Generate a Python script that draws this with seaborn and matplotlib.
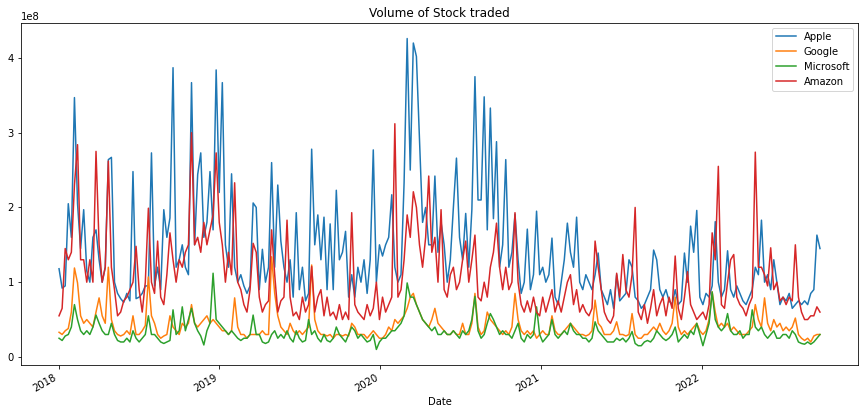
import numpy as np
import pandas as pd
import matplotlib
matplotlib.use("Agg")
import matplotlib.pyplot as plt
import matplotlib.dates as mdates
import seaborn as sns

# weekly samples (Tuesdays) from 2018-01-02 to 2022-09-27, volume in units of 1e8
dates = pd.date_range("2018-01-02", periods=248, freq="7D")

apple = [
    1.18, 0.92, 0.95, 2.05, 1.6, 3.47, 2.05, 1.45, 1.97, 1.15,
    1.0, 1.6, 1.7, 1.3, 1.0, 1.2, 2.64, 2.67, 1.0, 0.85,
    0.78, 0.73, 0.85, 0.75, 2.48, 0.78, 0.8, 0.85, 0.95, 0.95,
    2.73, 0.95, 1.2, 0.9, 1.97, 1.6, 1.86, 3.87, 1.2, 1.3,
    1.5, 1.2, 1.1, 3.67, 1.5, 2.44, 2.73, 1.6, 1.8, 2.48,
    1.7, 3.84, 2.2, 3.67, 1.5, 1.2, 2.45, 1.2, 1.0, 1.1,
    0.95, 0.85, 0.95, 2.06, 2.0, 0.9, 1.44, 1.0, 1.2, 2.6,
    1.2, 2.3, 1.55, 1.2, 1.0, 1.3, 0.8, 1.93, 0.9, 1.2,
    0.75, 0.85, 2.78, 1.5, 1.9, 1.3, 1.87, 0.9, 1.78, 0.9,
    2.23, 1.3, 1.4, 1.68, 0.8, 1.1, 0.8, 1.2, 1.0, 1.3,
    0.85, 1.3, 2.77, 1.0, 1.5, 1.35, 1.5, 1.6, 2.17, 1.2,
    1.0, 1.1, 2.33, 4.26, 2.5, 4.2, 4.02, 2.9, 1.8, 2.0,
    1.5, 1.5, 2.42, 1.4, 1.8, 1.5, 1.0, 1.3, 2.0, 2.66,
    1.6, 1.3, 1.92, 1.2, 1.97, 3.75, 2.1, 2.1, 3.48, 1.7,
    3.33, 1.85, 2.88, 1.2, 1.5, 2.64, 1.2, 1.4, 1.91, 1.3,
    0.85, 1.0, 1.71, 0.9, 1.1, 1.95, 1.1, 1.2, 1.0, 1.1,
    1.59, 0.8, 0.7, 1.0, 1.3, 1.79, 1.4, 1.2, 1.87, 1.0,
    0.9, 1.1, 1.0, 0.9, 1.1, 1.39, 0.9, 0.8, 0.7, 0.9,
    0.65, 1.1, 0.75, 0.8, 0.85, 1.3, 1.2, 0.8, 0.75, 0.65,
    0.7, 0.8, 0.9, 1.43, 1.3, 0.9, 0.8, 0.9, 0.75, 0.7,
    0.9, 0.7, 0.75, 1.39, 1.0, 1.75, 1.4, 1.96, 0.8, 0.7,
    0.85, 0.8, 0.95, 1.81, 1.0, 0.8, 0.9, 1.42, 0.9, 0.8,
    0.95, 0.85, 0.75, 0.7, 0.8, 0.9, 1.2, 1.1, 1.83, 1.0,
    1.1, 0.9, 1.3, 1.0, 0.7, 0.8, 0.75, 0.85, 0.65, 0.7,
    0.75, 0.7, 0.75, 0.7, 0.85, 0.9, 1.63, 1.45,
]

google = [
    0.33, 0.3, 0.35, 0.38, 0.6, 1.19, 0.99, 0.55, 0.45, 0.5,
    0.45, 0.4, 0.6, 0.79, 0.55, 0.45, 1.2, 0.5, 0.35, 0.3,
    0.28, 0.3, 0.35, 0.3, 0.55, 0.3, 0.3, 0.35, 0.42, 1.07,
    0.55, 0.45, 0.3, 0.25, 0.28, 0.3, 0.55, 0.4, 0.35, 0.3,
    0.45, 0.4, 0.45, 0.7, 0.45, 0.4, 0.45, 0.5, 0.55, 0.45,
    0.5, 0.45, 0.4, 0.35, 0.35, 0.3, 0.35, 0.79, 0.4, 0.3,
    0.3, 0.25, 0.3, 0.3, 0.3, 0.3, 0.35, 0.3, 0.3, 1.34,
    0.85, 0.55, 0.4, 0.35, 0.3, 0.45, 0.35, 0.3, 0.35, 0.3,
    0.35, 0.4, 1.23, 0.5, 0.35, 0.3, 0.3, 0.28, 0.3, 0.25,
    0.3, 0.3, 0.28, 0.3, 0.28, 0.45, 0.4, 0.3, 0.3, 0.3,
    0.25, 0.3, 0.35, 0.3, 0.25, 0.25, 0.3, 0.4, 0.35, 0.5,
    0.45, 0.5, 0.55, 0.65, 0.8, 0.85, 0.7, 0.6, 0.5, 0.45,
    0.4, 0.5, 0.65, 0.45, 0.4, 0.35, 0.3, 0.3, 0.35, 0.3,
    0.3, 0.45, 0.3, 0.3, 0.45, 0.85, 0.4, 0.3, 0.35, 0.6,
    0.5, 0.45, 0.4, 0.35, 0.3, 0.35, 0.3, 0.4, 0.85, 0.5,
    0.35, 0.3, 0.35, 0.3, 0.35, 0.25, 0.3, 0.35, 0.3, 0.3,
    0.55, 0.35, 0.3, 0.3, 0.35, 0.4, 0.45, 0.4, 0.35, 0.3,
    0.3, 0.28, 0.3, 0.35, 0.76, 0.45, 0.4, 0.3, 0.3, 0.3,
    0.35, 0.47, 0.3, 0.3, 0.28, 0.3, 0.58, 0.3, 0.25, 0.25,
    0.3, 0.3, 0.35, 0.4, 0.35, 0.45, 0.35, 0.3, 0.35, 0.45,
    0.8, 0.4, 0.3, 0.35, 0.3, 0.35, 0.4, 0.45, 0.35, 0.3,
    0.35, 0.5, 0.87, 0.6, 0.4, 0.45, 0.4, 0.45, 0.35, 0.4,
    0.35, 0.3, 0.3, 0.3, 0.35, 0.4, 0.7, 0.5, 0.4, 0.79,
    0.45, 0.35, 0.5, 0.4, 0.45, 0.35, 0.4, 0.35, 0.4, 0.52,
    0.3, 0.25, 0.22, 0.25, 0.2, 0.28, 0.3, 0.3,
]

microsoft = [
    0.25, 0.22, 0.28, 0.3, 0.4, 0.7, 0.5, 0.35, 0.3, 0.35,
    0.3, 0.4, 0.56, 0.45, 0.35, 0.3, 0.3, 0.45, 0.3, 0.22,
    0.2, 0.2, 0.25, 0.2, 0.35, 0.25, 0.2, 0.25, 0.3, 0.55,
    0.3, 0.3, 0.25, 0.2, 0.18, 0.2, 0.22, 0.63, 0.3, 0.35,
    0.67, 0.35, 0.5, 0.65, 0.45, 0.35, 0.28, 0.16, 0.35, 0.45,
    1.12, 0.5, 0.45, 0.4, 0.35, 0.3, 0.35, 0.3, 0.25, 0.22,
    0.25, 0.25, 0.3, 0.56, 0.3, 0.3, 0.2, 0.18, 0.2, 0.3,
    0.35, 0.25, 0.3, 0.25, 0.35, 0.25, 0.2, 0.35, 0.25, 0.2,
    0.22, 0.5, 0.3, 0.35, 0.25, 0.2, 0.3, 0.22, 0.2, 0.25,
    0.4, 0.3, 0.25, 0.2, 0.3, 0.4, 0.35, 0.25, 0.3, 0.25,
    0.2, 0.22, 0.3, 0.10, 0.2, 0.25, 0.25, 0.3, 0.35, 0.35,
    0.4, 0.45, 0.55, 0.99, 0.8, 0.8, 0.7, 0.6, 0.5, 0.45,
    0.4, 0.35, 0.4, 0.3, 0.3, 0.35, 0.3, 0.3, 0.35, 0.3,
    0.25, 0.35, 0.3, 0.35, 0.5, 0.81, 0.35, 0.25, 0.3, 0.45,
    0.58, 0.5, 0.4, 0.3, 0.35, 0.3, 0.3, 0.25, 0.35, 0.45,
    0.25, 0.2, 0.3, 0.25, 0.3, 0.67, 0.3, 0.2, 0.25, 0.3,
    0.5, 0.3, 0.25, 0.3, 0.35, 0.3, 0.45, 0.35, 0.3, 0.3,
    0.25, 0.25, 0.2, 0.25, 0.47, 0.35, 0.3, 0.25, 0.2, 0.2,
    0.2, 0.25, 0.22, 0.25, 0.2, 0.25, 0.34, 0.18, 0.15, 0.15,
    0.2, 0.22, 0.2, 0.25, 0.35, 0.3, 0.25, 0.22, 0.25, 0.3,
    0.4, 0.2, 0.25, 0.3, 0.25, 0.35, 0.3, 0.45, 0.3, 0.15,
    0.3, 0.45, 0.87, 0.5, 0.4, 0.35, 0.4, 0.58, 0.35, 0.3,
    0.3, 0.35, 0.25, 0.3, 0.3, 0.63, 0.4, 0.35, 0.4, 0.3,
    0.25, 0.3, 0.35, 0.25, 0.25, 0.3, 0.3, 0.25, 0.35, 0.3,
    0.2, 0.18, 0.17, 0.2, 0.17, 0.2, 0.25, 0.3,
]

amazon = [
    0.55, 0.65, 1.45, 1.3, 1.4, 2.3, 2.84, 1.3, 1.3, 1.0,
    1.3, 1.0, 2.75, 1.5, 1.0, 1.2, 2.62, 1.2, 0.9, 0.55,
    0.6, 0.75, 0.8, 0.9, 1.0, 1.48, 0.9, 0.6, 1.0, 1.99,
    1.0, 0.85, 1.55, 0.8, 0.7, 1.1, 1.66, 1.3, 1.0, 1.3,
    1.2, 1.4, 1.5, 3.0, 1.5, 1.6, 1.4, 1.8, 1.5, 1.7,
    1.9, 2.73, 1.8, 1.5, 1.0, 1.4, 1.1, 2.33, 1.0, 0.9,
    0.7, 0.6, 0.9, 1.52, 1.4, 0.8, 0.6, 0.7, 0.75, 1.7,
    1.1, 0.6, 0.75, 0.8, 1.83, 0.8, 0.55, 0.6, 0.5, 0.8,
    0.6, 0.7, 1.21, 0.6, 0.8, 0.9, 0.55, 0.8, 0.55, 0.6,
    0.5, 0.7, 0.5, 0.6, 0.5, 1.93, 0.7, 0.6, 0.55, 0.5,
    0.7, 0.55, 0.65, 1.0, 0.5, 0.8, 0.6, 0.7, 0.8, 3.12,
    0.8, 0.9, 1.3, 1.9, 1.6, 2.21, 2.0, 1.5, 1.2, 1.6,
    2.42, 1.4, 1.6, 1.0, 1.97, 0.9, 0.8, 1.1, 1.2, 0.9,
    1.0, 1.3, 1.55, 1.0, 1.3, 1.63, 0.8, 0.75, 1.0, 0.8,
    1.2, 1.4, 1.79, 1.2, 0.9, 1.2, 0.9, 1.0, 1.93, 1.0,
    0.7, 0.6, 0.75, 0.6, 0.8, 0.6, 0.55, 0.8, 0.6, 0.75,
    0.9, 0.6, 0.75, 0.6, 0.8, 1.0, 1.1, 0.7, 0.9, 0.6,
    0.7, 0.6, 0.55, 0.65, 1.55, 1.2, 0.9, 0.6, 0.5, 0.45,
    0.55, 1.12, 0.8, 1.37, 0.9, 0.8, 1.1, 2.0, 0.6, 0.5,
    0.7, 0.45, 0.65, 0.9, 0.55, 0.7, 0.8, 0.55, 0.8, 0.65,
    1.35, 0.65, 0.5, 0.8, 1.14, 0.7, 0.6, 0.5, 0.55, 0.6,
    0.5, 0.7, 1.66, 1.3, 2.55, 0.7, 0.65, 1.0, 1.3, 1.37,
    0.8, 0.7, 0.65, 0.55, 0.7, 0.8, 2.74, 1.2, 1.2, 1.1,
    0.95, 1.46, 0.9, 1.0, 0.75, 0.8, 0.7, 0.8, 0.75, 1.5,
    0.8, 0.6, 0.5, 0.5, 0.55, 0.55, 0.67, 0.6,
]

companies = ["Apple", "Google", "Microsoft", "Amazon"]
colors = ["#1f77b4", "#ff7f0e", "#2ca02c", "#d62728"]
series = [apple, google, microsoft, amazon]

frames = []
for name, vals in zip(companies, series):
    assert len(vals) == len(dates), (name, len(vals))
    frames.append(pd.DataFrame({"Date": dates,
                                "Volume": np.array(vals) * 1e8,
                                "Stock": name}))
df = pd.concat(frames, ignore_index=True)

fig = plt.figure(figsize=(12, 415 / 72), dpi=72)
ax = fig.add_axes([0.0243, 0.1205, 0.9688, 0.8241])

sns.lineplot(data=df, x="Date", y="Volume", hue="Stock",
             hue_order=companies, palette=colors, linewidth=1.5, ax=ax)

ax.set_title("Volume of Stock traded", fontsize=12)
ax.set_xlabel("Date", fontsize=10)
ax.set_ylabel("")
ax.xaxis.set_major_locator(mdates.YearLocator())
ax.xaxis.set_major_formatter(mdates.DateFormatter("%Y"))
plt.setp(ax.get_xticklabels(), rotation=30, ha="right")
ax.tick_params(labelsize=10)
ax.legend(loc="upper right", fontsize=10, title=None)

fig.savefig("out.png", dpi=72)
